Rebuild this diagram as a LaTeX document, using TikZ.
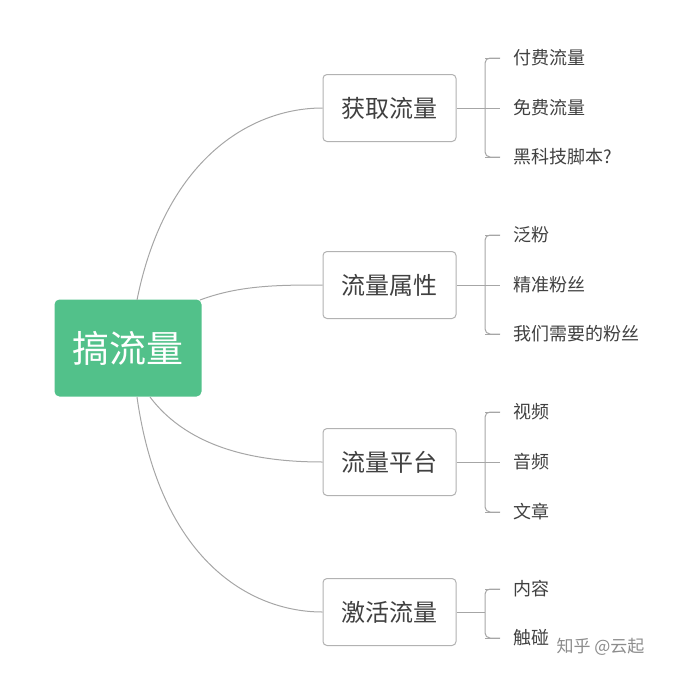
\documentclass[tikz,border=0pt]{standalone}
\usepackage{fontspec}
\setmainfont{Noto Sans CJK SC}
\begin{document}
\begin{tikzpicture}[x=1pt,y=-1pt,
  branch/.style={draw=black!30,line width=1pt,rounded corners=4pt,fill=white,minimum width=133pt,minimum height=67pt,font=\fontsize{24}{28}\selectfont,text=black!75},
  leaf/.style={anchor=west,font=\fontsize{18}{22}\selectfont,text=black!75,inner sep=0pt},
  conn/.style={draw=black!35,line width=1pt}]
\useasboundingbox (0,0) rectangle (680,675);
\node[fill=green!45!teal!60!white,fill={rgb,255:red,82;green,193;blue,138},rounded corners=5pt,minimum width=147pt,minimum height=97pt,text=white,font=\fontsize{37}{42}\selectfont] (root) at (128,348) {搞流量};
\node[branch] (b1) at (389.5,108) {获取流量};
\node[branch] (b2) at (389.5,285) {流量属性};
\node[branch] (b3) at (389.5,462) {流量平台};
\node[branch] (b4) at (389.5,612) {激活流量};
\coordinate (r1) at (137,300);
\coordinate (r2) at (200,300);
\coordinate (r3) at (150,397);
\coordinate (r4) at (137,397);
\draw[conn] (r1) .. controls (165,160) and (250,108) .. (b1.west);
\draw[conn] (r2) .. controls (240,285) and (280,285) .. (b2.west);
\draw[conn] (r3) .. controls (190,450) and (260,462) .. (b3.west);
\draw[conn] (r4) .. controls (160,560) and (250,612) .. (b4.west);
\foreach \b/\y/\ya/\yb/\names in {b1/108/58/157/{付费流量/58,免费流量/108,黑科技脚本?/157},b2/285/235/334/{泛粉/235,精准粉丝/285,我们需要的粉丝/334},b3/462/412/512/{视频/412,音频/462,文章/512},b4/612/589/638/{内容/589,触碰/638}}{
  \draw[conn] (\b.east) -- (485,\y);
  \draw[conn,rounded corners=5pt] (500,\ya) -- (485,\ya) -- (485,\yb) -- (500,\yb);
  \foreach \t/\yy in \names {
    \draw[conn] (485,\yy) -- (500,\yy);
    \node[leaf] (n\yy) at (513,\yy) {\t};
  }
}
\node[anchor=west,text=black!45,font=\fontsize{17}{20}\selectfont] (wm) at (553,647) {知乎 @云起};
\end{tikzpicture}
\end{document}
